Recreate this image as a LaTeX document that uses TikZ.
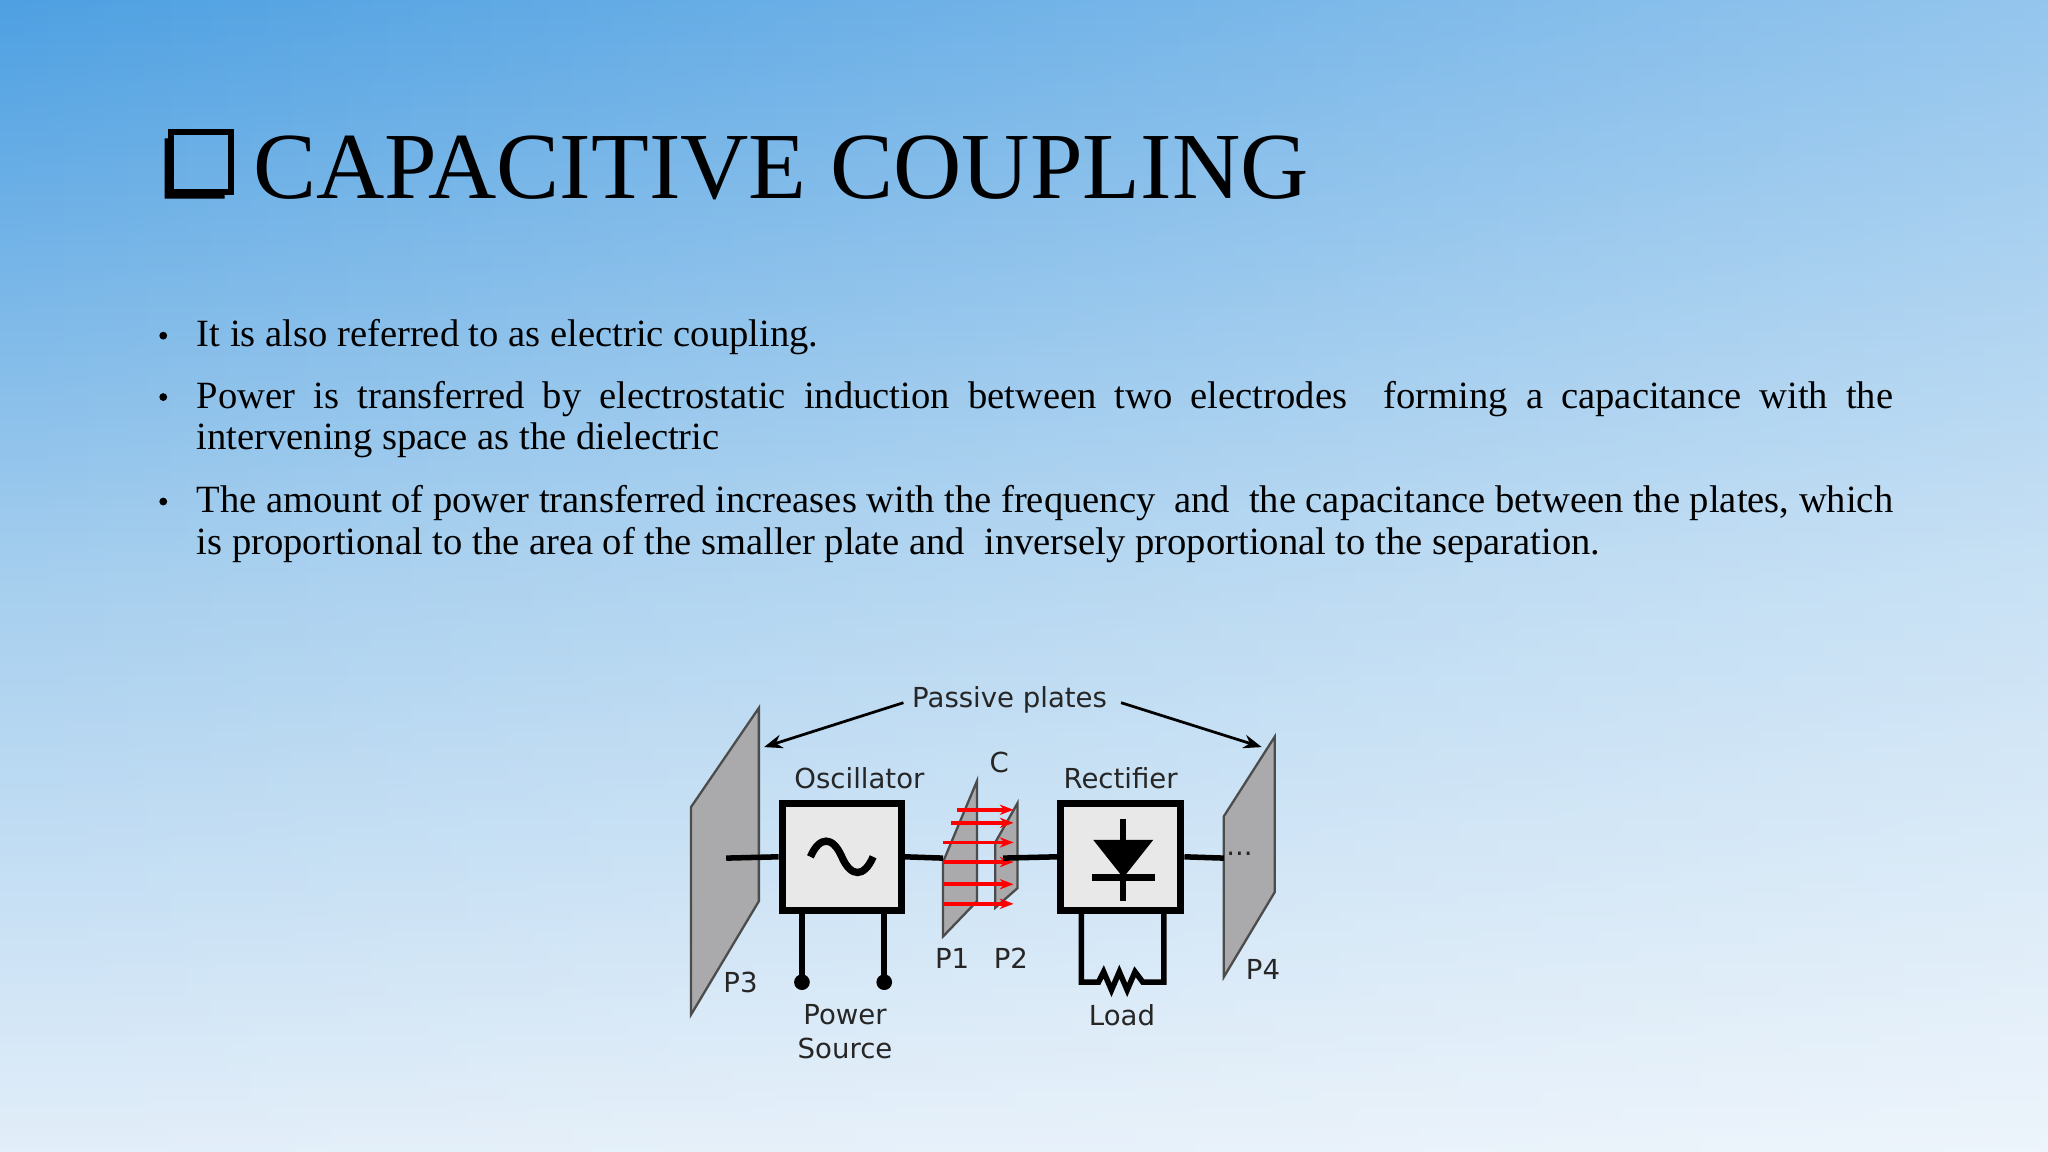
\documentclass[tikz,border=0pt]{standalone}
\usepackage{fontspec}
\setmainfont{Liberation Serif}
\newfontfamily\dgf{DejaVu Sans}
\usetikzlibrary{arrows.meta,fadings}
\definecolor{bgtop}{RGB}{78,160,226}
\definecolor{bgmid}{RGB}{165,206,238}
\definecolor{bgbot}{RGB}{226,238,249}
\definecolor{plategray}{RGB}{170,170,172}
\definecolor{boxgray}{RGB}{232,232,232}
\tikzset{
 plate/.style={fill=plategray,draw=black!70,line width=0.5pt},
 wire/.style={line width=1.2pt},
 blk/.style={draw=black,line width=1.6pt,fill=boxgray},
 dlab/.style={font=\dgf\fontsize{6}{7.3}\selectfont,text=black!85,inner sep=0pt,align=center},
 para/.style={anchor=north west,inner sep=0pt,text width=12.98cm,align=justify,font=\fontsize{8.4}{9.1}\selectfont},
 bul/.style={circle,fill=black,inner sep=0pt,minimum size=0.06cm},
 redarr/.style={red,line width=0.8pt,-{Stealth[length=3pt]}},
 parr/.style={line width=0.6pt,-{Stealth[length=4pt]}}
}
\begin{document}
\begin{tikzpicture}[x=0.01cm,y=-0.01cm]
\shade[top color=bgtop,bottom color=bgbot,middle color=bgmid] (0,0) rectangle (1568,882);
\fill[white,opacity=0.4,path fading=west] (0,0) rectangle (1568,882);
\useasboundingbox (0,0) rectangle (1568,882);
% title
\fill[black] (126,106) rectangle (131,152) (126,147) rectangle (172,152);
\draw[black,line width=1.3pt] (131,101) rectangle (177,147);
\node[anchor=base west,inner sep=0pt,font=\fontsize{20.6}{22}\selectfont] (title) at (193,152) {CAPACITIVE COUPLING};
% bullets
\node[bul] (b1) at (125,257) {};
\node[para] (t1) at (150,244) {It is also referred to as electric coupling.};
\node[bul] (b2) at (125,304) {};
\node[para] (t2) at (150,291) {Power is transferred by electrostatic induction between two electrodes\ \ forming a capacitance with the\linebreak intervening space as the dielectric};
\node[bul] (b3) at (125,384) {};
\node[para] (t3) at (150,371) {The amount of power transferred increases with the frequency\ \ and\ \ the capacitance between the plates, which\linebreak is proportional to the area of the smaller plate and\ \ inversely proportional to the separation.};
% diagram
\draw[plate] (529,618) -- (581,542) -- (581,690) -- (529,777) -- cycle;
\draw[plate] (937,625) -- (976,564) -- (976,683) -- (937,748) -- cycle;
\coordinate (p3c) at (556,657);
\node[blk,minimum width=0.91cm,minimum height=0.82cm,inner sep=0pt] (osc) at (644.5,656) {};
\node[blk,minimum width=0.92cm,minimum height=0.82cm,inner sep=0pt] (rec) at (858,656) {};
\draw[wire] (p3c) -- (osc.west);
\draw[line width=1.6pt] ([xshift=-0.24cm]osc.center) .. controls +(7,-16) and +(-7,-16) .. (osc.center) .. controls +(7,16) and +(-7,16) .. ([xshift=0.24cm]osc.center);
% capacitor plates
\draw[plate] (722,660) -- (748,598) -- (748,690) -- (722,717) -- cycle;
\draw[wire] (osc.east) -- (722,657);
\draw[plate] (762,645) -- (779,615) -- (779,680) -- (762,695) -- cycle;
\foreach \yy/\xs in {620/733,630/728,645/722,660/722,677/722,692/722}
  \draw[redarr] (\xs,\yy) -- (776,\yy);
\coordinate (p2c) at (768,657);
\draw[wire] (p2c) -- (rec.west);
\coordinate (p4c) at (937,657);
\draw[wire] (rec.east) -- (p4c);
\node[dlab] (dots) at (949,654) {...};
% diode
\fill[black] (837,643) -- (883,643) -- (860,672) -- cycle;
\draw[line width=1.4pt] (860,627) -- (860,690);
\draw[line width=1.4pt] (836,672) -- (884,672);
% power source
\coordinate (ps1) at (614,752);
\coordinate (ps2) at (677,752);
\draw[wire] (osc.south -| ps1) -- (ps1);
\draw[wire] (osc.south -| ps2) -- (ps2);
\fill (ps1) circle (6);
\fill (ps2) circle (6);
% load
\coordinate (l1) at (828,752);
\coordinate (l2) at (891,752);
\draw[wire] (rec.south -| l1) -- (l1) -- (841,752) -- (845,744) -- (851,758) -- (857,744) -- (863,758) -- (869,744) -- (875,752) -- (l2) -- (rec.south -| l2);
% labels
\node[dlab] (lpass) at (773,536) {Passive plates};
\draw[parr] (lpass.west) ++(-6,2) -- (585,572);
\draw[parr] (lpass.east) ++(10,2) -- (966,572);
\node[dlab] at (658,596) {Oscillator};
\node[dlab] at (858,596) {Rectifier};
\node[dlab] at (765,584) {C};
\node[dlab] at (567,752) {P3};
\node[dlab] at (729,734) {P1};
\node[dlab] at (774,734) {P2};
\node[dlab] at (967,742) {P4};
\node[dlab] at (647,790) {Power\\Source};
\node[dlab] at (859,777) {Load};
\end{tikzpicture}
\end{document}
